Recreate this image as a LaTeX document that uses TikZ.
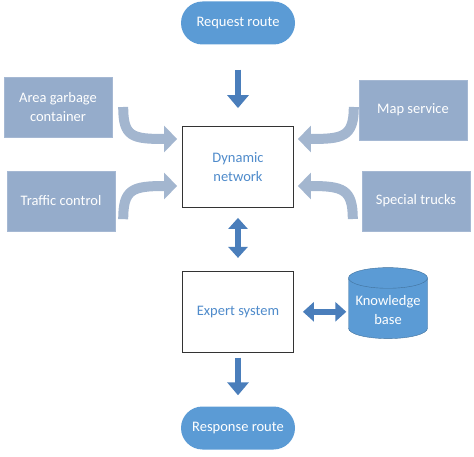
\documentclass[tikz,border=0pt]{standalone}
\usepackage{fontspec}
\setmainfont{Carlito}
\usetikzlibrary{positioning,arrows.meta,calc,shapes.misc,shapes.geometric}
\definecolor{cPill}{HTML}{5B9BD5}
\definecolor{cArrow}{HTML}{4A7EBB}
\definecolor{cSource}{HTML}{95ACCB}
\definecolor{cBend}{HTML}{A3B6CF}
\definecolor{cLabel}{HTML}{4F8BCB}
\definecolor{cEdge}{HTML}{41719C}

\begin{document}
\begin{tikzpicture}[x=1pt,y=-1pt,
    every node/.style={font=\fontsize{14.5}{19}\selectfont,align=center,inner sep=2pt},
    pill/.style={rounded rectangle,fill=cPill,text=white,minimum width=118pt,minimum height=43pt},
    panel/.style={draw=black!80,line width=0.8pt,fill=white,text=cLabel,minimum width=111pt,minimum height=81pt},
    source/.style={fill=cSource,draw=cSource!85!white,text=white,minimum width=108pt,minimum height=60pt},
    flow/.style={cArrow,line width=6.5pt,-{Triangle[width=21pt,length=13pt]}},
    both/.style={cArrow,line width=6.5pt,{Triangle[width=19pt,length=11pt]}-{Triangle[width=19pt,length=11pt]}},
    curl/.style={cBend,line width=10pt,-{Triangle[width=26pt,length=13pt]}}]
  \useasboundingbox (0,0) rectangle (474,457);
  \node[panel] (dyn) at (238,167) {Dynamic\\network};
  \node[panel,below=63pt of dyn] (expert) {Expert system};
  \node[pill] (request) at (238,23) {Request route};
  \node[pill] (response) at (238,428) {Response route};
  \node[source] (garbage) at (58,107) {Area garbage\\container};
  \node[source] (traffic) at (61,201) {Traffic control};
  \node[source] (map) at (413,110) {Map service};
  \node[source] (trucks) at (416,201) {Special trucks};
  \node[cylinder,shape border rotate=90,aspect=0.3,draw=cEdge,fill=cPill,text=white,
        minimum width=79pt,minimum height=71pt] (kb) at (388,310) {Knowledge\\base};

  \draw[flow] ($(request.south)+(0,25)$) -- ($(dyn.north)+(0,-18)$);
  \draw[flow] ($(expert.south)+(0,5)$) -- ($(response.north)+(0,-11)$);
  \draw[both] ($(dyn.south)+(0,10)$) -- ($(expert.north)+(0,-13)$);
  \draw[both] ($(expert.east)+(9,0)$) -- ($(expert.east -| kb.west)+(-2,0)$);

  \draw[curl] ($(garbage.east)+(11,0)$) .. controls +(0,30) and +(-45,0) .. ($(dyn.west)+(-5,-28)$);
  \draw[curl] ($(traffic.south east)+(8,-12)$) .. controls +(0,-30) and +(-45,0) .. ($(dyn.west)+(-5,19)$);
  \draw[curl] ($(map.west)+(-5,-3)$) .. controls +(0,30) and +(45,0) .. ($(dyn.east)+(4,-28)$);
  \draw[curl] ($(trucks.west)+(-9,18)$) .. controls +(0,-30) and +(45,0) .. ($(dyn.east)+(4,19)$);
\end{tikzpicture}
\end{document}
